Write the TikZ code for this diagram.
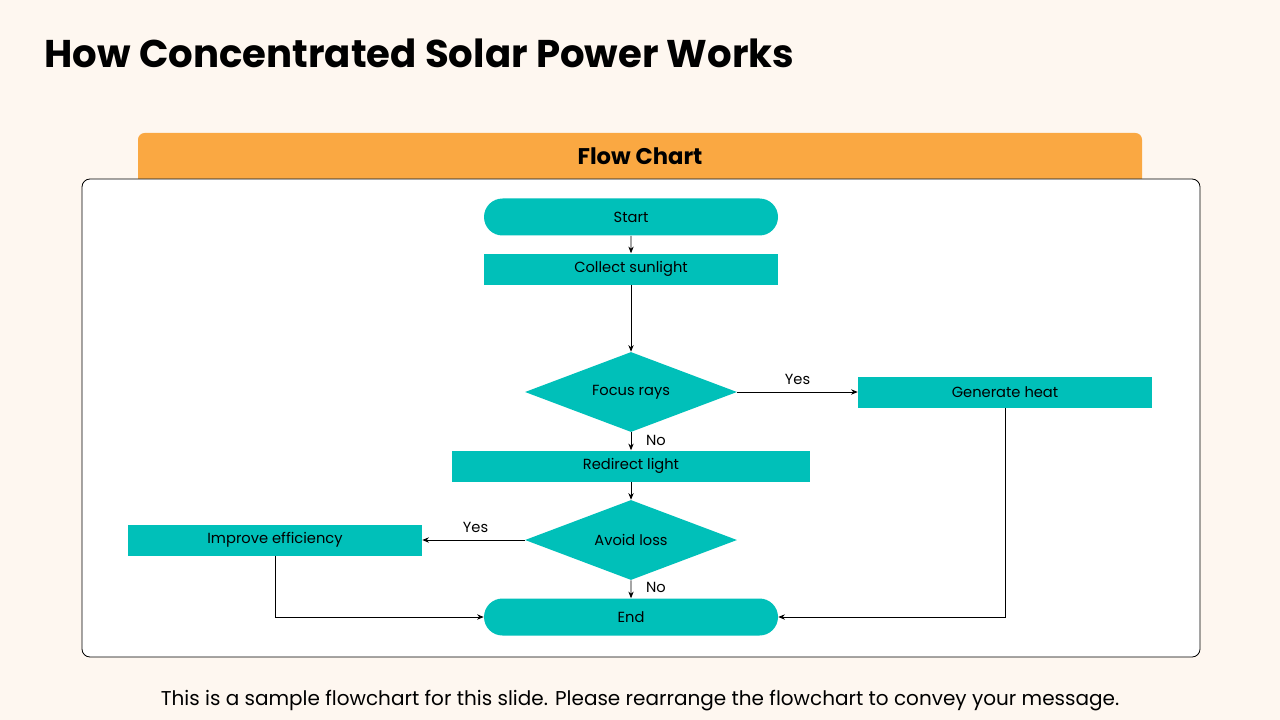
\documentclass[tikz,border=0pt]{standalone}
\usepackage{fontspec}
\setmainfont{Poppins}
\usetikzlibrary{shapes.geometric,shapes.misc,arrows.meta,positioning}
\definecolor{cream}{RGB}{254,247,240}
\definecolor{tabor}{RGB}{250,168,66}
\definecolor{teal}{RGB}{0,192,185}
\tikzset{
  box/.style={fill=teal,minimum height=23.25pt,inner sep=0pt,font=\fontsize{11}{13}\selectfont},
  pill/.style={box,rounded rectangle,minimum width=220.5pt,minimum height=27.75pt},
  dec/.style={diamond,fill=teal,aspect=2.65,minimum width=159pt,minimum height=60pt,inner sep=0pt,font=\fontsize{11}{13}\selectfont},
  flow/.style={-{Stealth[length=5pt,width=4pt]},line width=0.6pt},
  lbl/.style={font=\fontsize{11}{13}\selectfont}
}
\begin{document}
\begin{tikzpicture}[x=0.75pt,y=-0.75pt]
	\useasboundingbox (0,0) rectangle (1280,720);
	\fill[cream] (0,0) rectangle (1280,720);
	% title
	\node[anchor=west,font=\fontsize{29}{34}\selectfont\bfseries] (title) at (40,53) {How Concentrated Solar Power Works};
	% header tab
	\fill[tabor,rounded corners=5pt] (138,190) -- (138,133) -- (1142,133) -- (1142,190) -- cycle;
	\node[font=\fontsize{17}{20}\selectfont\bfseries] (head) at (640,156) {Flow Chart};
	\draw[fill=white,rounded corners=6pt,line width=0.6pt] (82,179) rectangle (1200,657);
	% nodes
	\node[pill] (start) at (631,217) {Start};
	\node[box,minimum width=220.5pt] (collect) at (631,269) {Collect sunlight};
	\node[dec] (focus) at (631,392) {Focus rays};
	\node[box,minimum width=220.5pt] (heat) at (1005,392) {Generate heat};
	\node[box,minimum width=268.5pt] (redirect) at (631,466) {Redirect light};
	\node[dec] (avoid) at (631,540) {Avoid loss};
	\node[box,minimum width=220.5pt] (improve) at (275,540) {Improve efficiency};
	\node[pill] (end) at (631,617) {End};
	% connectors
	\draw[flow] (start) -- (collect);
	\draw[flow] (collect) -- (focus);
	\draw[flow] (focus) -- node[lbl,above=2pt] (yes1) {Yes} (heat);
	\draw[flow] (focus) -- (redirect);
	\node[lbl] (no1) at (656,440) {No};
	\draw[flow] (redirect) -- (avoid);
	\draw[flow] (avoid) -- node[lbl,above=2pt,pos=0.48] (yes2) {Yes} (improve);
	\draw[flow] (avoid) -- (end);
	\node[lbl] (no2) at (656,587) {No};
	\draw[flow] (improve.south) |- (end.west);
	\draw[flow] (heat.south) |- (end.east);
	% footer
	\node[font=\fontsize{15}{18}\selectfont] (foot) at (640,701) {This is a sample flowchart for this slide. Please rearrange the flowchart to convey your message.};
\end{tikzpicture}
\end{document}
